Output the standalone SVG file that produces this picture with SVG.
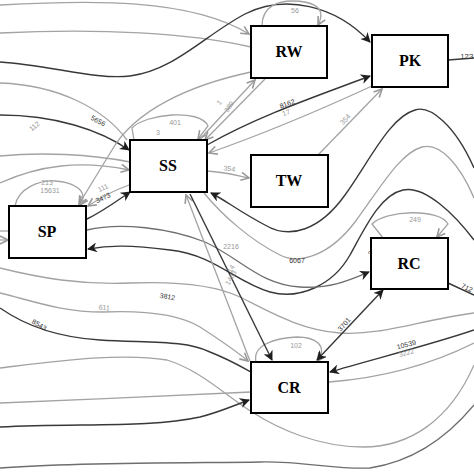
<svg xmlns="http://www.w3.org/2000/svg" width="474" height="474" viewBox="0 0 474 474">
<style>
.n rect{fill:#fff;stroke:#000;stroke-width:2}
.n text{font-family:"Liberation Serif",serif;font-weight:bold;font-size:16px;text-anchor:middle;fill:#000}
.g{fill:none;stroke:#a3a3a3;stroke-width:1.3}
.d{fill:none;stroke:#383838;stroke-width:1.4}
.m{fill:none;stroke:#6e6e6e;stroke-width:1.3}
.ag{marker-end:url(#ag)}
.ad{marker-end:url(#ad)}
.lb{font-family:"Liberation Sans",sans-serif;font-size:7px;text-anchor:middle}
.lg{fill:#999}
.ld{fill:#333}
</style>
<defs>
<marker id="ag" viewBox="0 0 10 10" refX="9" refY="5" markerWidth="10" markerHeight="10" markerUnits="userSpaceOnUse" orient="auto-start-reverse"><path d="M1,1 L9,5 L1,9" fill="none" stroke="#999" stroke-width="1.6"/></marker>
<marker id="ad" viewBox="0 0 10 10" refX="9" refY="5" markerWidth="10" markerHeight="10" markerUnits="userSpaceOnUse" orient="auto-start-reverse"><path d="M0,0 L10,5 L0,10 L3,5z" fill="#1e1e1e"/></marker>
</defs>
<g id="connectors">
<path class="g ag" d="M0,5 C90,0 190,-2 249,34"/>
<path class="g" d="M0,33 C100,28 190,33 251,47"/>
<path class="d ad" d="M0,62 C50,65 95,80 130,76 C175,70 205,35 245,14 C285,-6 335,5 370,42"/>
<path class="g ag" d="M262,26 C262,5 280,1 292,1 C310,1 328,6 318,25"/>
<path class="g" d="M0,83 C60,85 105,110 127,140"/>
<path class="d ad" d="M0,115 C55,115 100,130 129,150"/>
<path class="g" d="M0,156 C40,152 90,154 130,162"/>
<path class="g ag" d="M0,183 C40,165 80,160 129,170"/>
<path class="g ag" d="M134,140 L132,128 C145,114 200,108 208,126 L198,139"/>
<path class="g ag" d="M251,72 C190,85 135,110 112,150 L79,204"/>
<path class="g ag" d="M200,139 L255,80"/>
<path class="g ag" d="M265,79 L205,140"/>
<path class="d ad" d="M207,145 C260,115 320,95 370,76"/>
<path class="g ag" d="M372,86 C320,110 260,135 209,153"/>
<path class="g ag" d="M318,155 L382,89"/>
<path class="g ag" d="M207,171 C225,172 235,175 249,178"/>
<path class="d" d="M448,60 L474,58"/>
<path class="g ag" d="M15,206 C18,188 40,180 55,181 C72,182 90,190 80,205"/>
<path class="g ag" d="M129,185 C115,190 100,198 88,206"/>
<path class="d ad" d="M87,219 C105,210 118,200 130,192"/>
<path class="g" d="M0,231 L9,231"/>
<path class="g ag" d="M0,240 L8,240"/>
<path class="d ad" d="M474,168 C455,125 430,105 415,110 C390,117 370,160 345,195 C320,230 290,240 265,225 C240,212 225,200 211,193"/>
<path class="g" d="M474,198 C460,165 440,142 422,147 C400,153 380,188 355,222 C330,255 300,265 280,255 C250,240 222,215 204,193"/>
<path class="d ad" d="M474,240 C455,215 425,185 403,190 C380,195 365,228 350,255 C333,285 300,300 270,292 C235,282 215,255 170,250 C130,245 110,245 88,249"/>
<path class="m ad" d="M87,230 C120,222 170,228 205,242 C240,258 260,285 300,287 C330,289 350,280 369,272"/>
<path class="g" d="M0,268 C40,278 80,285 130,283 C180,281 215,285 240,297 C270,312 300,330 340,333 C380,336 420,320 474,313"/>
<path class="g ag" d="M0,293 C30,300 60,312 103,312 C150,310 180,315 200,327 C220,340 235,350 248,361"/>
<path class="d" d="M0,308 C20,322 50,337 100,340 C150,343 185,340 210,352 C230,360 240,366 251,372"/>
<path class="g" d="M0,368 C50,362 120,352 167,360 C200,370 225,395 252,412 C280,430 320,447 363,447 C410,447 450,420 474,365"/>
<path class="g" d="M0,403 C80,400 180,395 251,392"/>
<path class="d ad" d="M0,427 C80,423 150,428 200,417 C220,412 235,405 249,400"/>
<path class="m" d="M0,468 C80,462 200,463 260,462 C300,461 340,470 370,468 C410,462 445,440 474,405"/>
<path class="g ag" d="M256,362 C252,345 275,338 297,337 C315,337 328,345 318,361"/>
<path class="g ag" d="M250,361 L186,195"/>
<path class="d ad" d="M190,194 L272,360"/>
<path class="d" d="M317,360 L383,290" marker-start="url(#ad)" marker-end="url(#ad)"/>
<path class="d ad" d="M474,330 C430,345 370,360 330,372"/>
<path class="g" d="M329,382 C380,378 430,365 474,343"/>
<path class="g ag" d="M383,238 L372,224 C385,210 440,208 448,224 L437,237"/>
<path class="d" d="M448,283 L474,295"/>
<text class="lb lg" x="295" y="13">56</text>
<text class="lb ld" transform="translate(97,123) rotate(28)">5656</text>
<text class="lb lg" transform="translate(36,128) rotate(-40)">112</text>
<text class="lb lg" x="175" y="125">401</text>
<text class="lb lg" x="158" y="135">3</text>
<text class="lb lg" transform="translate(221,104) rotate(-48)">1</text>
<text class="lb lg" transform="translate(231,108) rotate(-55)">389</text>
<text class="lb ld" transform="translate(288,106) rotate(-20)">8162</text>
<text class="lb lg" transform="translate(287,115) rotate(-20)">17</text>
<text class="lb lg" transform="translate(347,121) rotate(-47)">354</text>
<text class="lb lg" transform="translate(229,171) rotate(8)">354</text>
<text class="lb ld" x="467" y="59">12'3</text>
<text class="lb lg" x="47" y="185">213</text>
<text class="lb lg" x="50" y="193">15631</text>
<text class="lb lg" transform="translate(104,190) rotate(-25)">111</text>
<text class="lb ld" transform="translate(104,200) rotate(-25)">3473</text>
<text class="lb lg" x="231" y="249">2216</text>
<text class="lb lg" transform="translate(233,270) rotate(-60)">14</text>
<text class="lb lg" transform="translate(233,279) rotate(-60)">1463</text>
<text class="lb ld" x="297" y="263">6067</text>
<text class="lb ld" transform="translate(376,250) rotate(-55)">3248</text>
<text class="lb lg" x="415" y="222">249</text>
<text class="lb ld" transform="translate(466,290) rotate(25)">712</text>
<text class="lb ld" transform="translate(167,299) rotate(10)">3812</text>
<text class="lb lg" transform="translate(104,310) rotate(5)">611</text>
<text class="lb ld" transform="translate(38,327) rotate(30)">8543</text>
<text class="lb lg" x="296" y="348">102</text>
<text class="lb ld" transform="translate(346,326) rotate(-48)">3701</text>
<text class="lb ld" transform="translate(407,347) rotate(-15)">10539</text>
<text class="lb lg" transform="translate(407,355) rotate(-15)">3222</text>
</g>
<g id="RW" class="n"><rect x="251" y="26" width="76" height="52"/><text x="289" y="57">RW</text></g>
<g id="PK" class="n"><rect x="372" y="35" width="76" height="52"/><text x="410" y="66">PK</text></g>
<g id="SS" class="n"><rect x="130" y="140" width="77" height="52"/><text x="168" y="171">SS</text></g>
<g id="TW" class="n"><rect x="251" y="155" width="77" height="52"/><text x="289" y="186">TW</text></g>
<g id="SP" class="n"><rect x="9" y="206" width="77" height="52"/><text x="47" y="237">SP</text></g>
<g id="RC" class="n"><rect x="371" y="238" width="77" height="51"/><text x="409" y="269">RC</text></g>
<g id="CR" class="n"><rect x="251" y="362" width="77" height="51"/><text x="289" y="393">CR</text></g>
</svg>
